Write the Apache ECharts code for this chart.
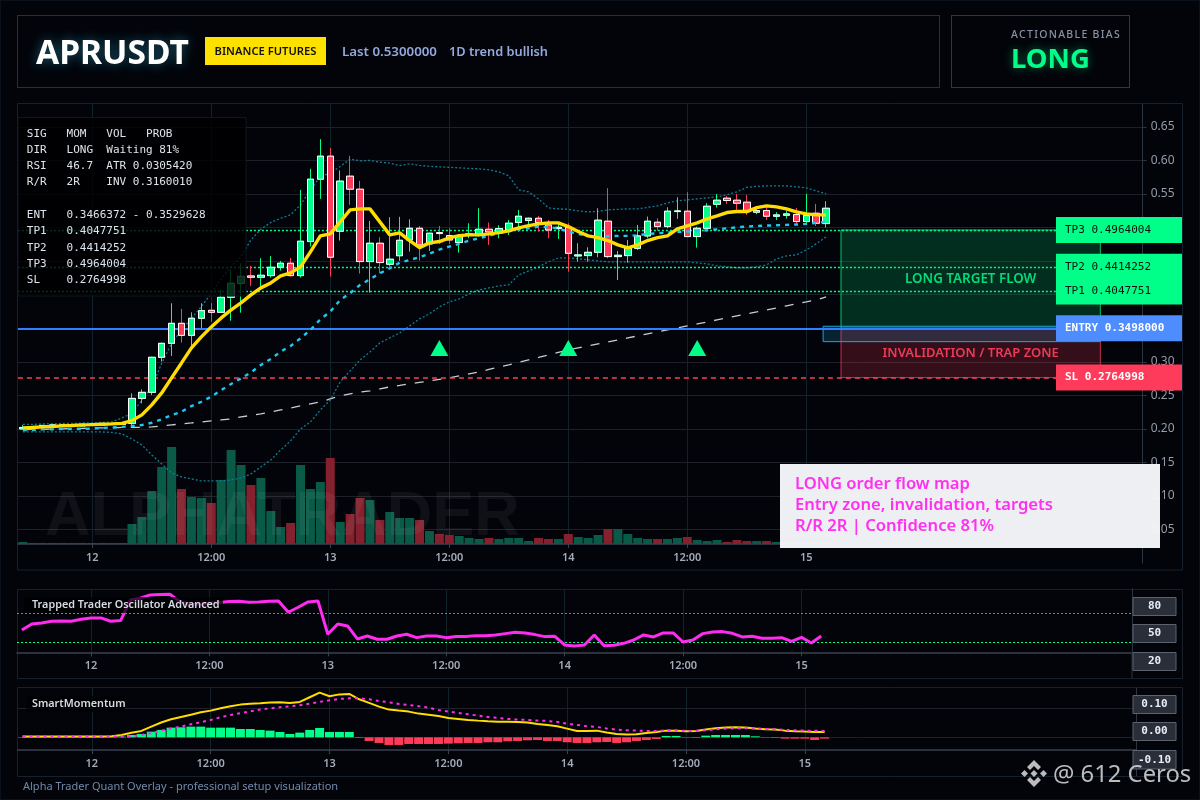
<!DOCTYPE html>
<html><head><meta charset="utf-8">
<script src="https://cdn.jsdelivr.net/npm/echarts@6/dist/echarts.min.js"></script>
<style>
html,body{margin:0;padding:0;background:#02040a;width:1200px;height:800px;overflow:hidden}
#frame{position:absolute;left:0;top:0;width:1198px;height:798px;border:1px solid #0b111b}
#chart{position:absolute;left:0;top:0;width:1200px;height:800px}
.p{position:absolute;font-family:"Noto Sans",sans-serif;white-space:nowrap}
</style></head><body>
<div id="frame"></div>
<div id="chart"></div>
<div class="p" style="left:17px;top:15px;width:921px;height:71px;border:1px solid #0f3a48"></div>
<div class="p" style="left:951px;top:15px;width:177px;height:71px;border:1px solid #5a1a6a"></div>
<div class="p" style="left:36px;top:27px;font-size:33.6px;line-height:48px;font-weight:700;color:#fff;text-shadow:0 0 12px rgba(60,200,240,.45)">APRUSDT</div>
<div class="p" style="left:205px;top:37px;width:121px;height:28px;line-height:28px;background:#ffe100;color:#111;text-align:center;font-size:11.2px;font-weight:600">BINANCE FUTURES</div>
<div class="p" style="left:342px;top:42px;line-height:18px;font-size:13.3px;font-weight:600;color:#93a9dc">Last 0.5300000</div>
<div class="p" style="left:449px;top:42px;line-height:18px;font-size:12.8px;font-weight:600;color:#93a9dc">1D trend bullish</div>
<div class="p" style="left:1011px;top:26px;line-height:16px;font-size:10.5px;font-weight:500;letter-spacing:1.3px;color:#8a92a3">ACTIONABLE BIAS</div>
<div class="p" style="left:1011px;top:38px;line-height:40px;font-size:27.5px;font-weight:700;color:#00ff88;text-shadow:0 0 10px rgba(0,255,136,.45)">LONG</div>
<script>
// ---------- price data (hourly candles) ----------
const opens=[.2000,.2022,.2030,.2037,.2045,.2060,.2045,.2052,.2060,.2082,.2067,.2082,.2455,.2545,.3067,.3275,.3573,.3394,.3648,.3767,.3737,.3961,.4165,.4279,.4259,.4284,.4408,.4468,.4284,.4791,.5720,.6063,.4945,.5765,.5571,.4493,.4766,.4453,.4580,.4815,.4989,.4756,.4925,.4880,.4776,.4885,.4905,.4974,.4915,.4964,.5074,.5104,.5138,.5039,.4984,.5004,.4577,.4582,.4631,.5094,.4567,.4582,.4691,.4875,.5079,.5014,.5238,.5243,.4865,.4989,.5347,.5437,.5407,.5377,.5228,.5253,.5168,.5183,.5193,.5089,.5213,.5059];
const closes=[.2022,.2037,.2052,.2060,.2060,.2045,.2067,.2075,.2082,.2067,.2082,.2455,.2545,.3067,.3275,.3573,.3394,.3648,.3762,.3737,.3961,.4170,.4274,.4259,.4289,.4408,.4468,.4284,.4796,.5720,.6063,.4558,.5691,.5571,.4493,.4766,.4478,.4528,.4810,.4989,.4741,.4915,.4910,.4815,.4880,.4905,.4974,.4935,.4984,.5064,.5168,.5138,.5074,.4964,.5004,.4616,.4592,.4631,.5109,.4567,.4587,.4691,.4875,.5094,.5014,.5243,.5248,.4865,.4989,.5317,.5407,.5402,.5362,.5238,.5253,.5168,.5188,.5203,.5089,.5178,.5064,.5287];
const lows=[.1993,.2015,.2022,.2030,.2037,.2030,.2037,.2045,.2052,.2060,.2060,.2058,.2381,.2505,.3002,.3086,.3285,.3206,.3499,.3598,.3737,.3613,.3732,.4130,.4095,.4254,.4359,.4269,.4254,.4717,.5427,.4269,.4806,.5338,.4314,.4031,.4319,.4418,.4503,.4641,.4507,.4651,.4756,.4756,.4626,.4840,.4865,.4741,.4840,.4890,.4940,.5039,.4940,.4840,.4830,.4343,.4492,.4492,.4557,.4542,.4219,.4477,.4666,.4840,.4954,.4989,.5128,.4865,.4701,.4974,.5297,.5352,.5263,.5188,.5198,.5113,.5113,.5133,.5054,.5064,.5024,.5000];
const highs=[.2060,.2045,.2060,.2075,.2075,.2067,.2082,.2089,.2089,.2089,.2089,.2530,.2589,.3076,.3285,.3872,.3787,.3737,.3872,.3872,.4070,.4369,.4468,.4428,.4543,.4577,.4503,.4548,.5561,.5875,.6317,.6183,.5850,.6068,.5696,.5099,.4856,.5154,.5159,.5123,.5024,.4925,.5024,.4989,.4895,.5064,.5287,.5074,.5034,.5113,.5263,.5148,.5173,.5113,.5074,.5064,.4766,.4706,.5287,.5586,.4651,.4815,.5039,.5163,.5138,.5302,.5451,.5526,.5014,.5362,.5501,.5471,.5501,.5486,.5302,.5302,.5228,.5253,.5292,.5501,.5352,.5392];
const ema=[.2015,.2022,.2030,.2037,.2045,.2052,.2060,.2064,.2070,.2075,.2082,.2124,.2209,.2358,.2536,.2760,.2983,.3207,.3371,.3520,.3654,.3773,.3877,.3997,.4101,.4175,.4280,.4324,.4414,.4637,.4876,.4906,.5084,.5263,.5278,.5278,.5084,.4891,.4920,.4806,.4701,.4771,.4791,.4846,.4880,.4891,.4891,.4906,.4925,.4950,.4995,.5029,.5055,.5069,.5069,.5014,.4940,.4876,.4850,.4806,.4742,.4697,.4742,.4806,.4850,.4876,.4980,.5025,.5069,.5129,.5174,.5223,.5238,.5238,.5297,.5323,.5308,.5278,.5233,.5204,.5189,.5189];
const basis=[.1985,.1985,.1993,.1993,.2000,.2000,.2000,.2007,.2015,.2022,.2030,.2043,.2058,.2092,.2142,.2207,.2256,.2341,.2405,.2480,.2579,.2669,.2753,.2843,.2952,.3042,.3151,.3236,.3350,.3474,.3633,.3747,.3921,.4021,.4145,.4230,.4319,.4393,.4477,.4517,.4557,.4612,.4671,.4716,.4756,.4805,.4840,.4880,.4915,.4945,.4974,.4989,.5014,.5004,.4989,.4940,.4905,.4875,.4865,.4870,.4875,.4875,.4885,.4905,.4915,.4925,.4935,.4940,.4945,.4960,.4974,.4989,.5004,.5014,.5024,.5029,.5034,.5039,.5044,.5054,.5069,.5084];
const bandUpper=[.2067,.2067,.2075,.2075,.2082,.2082,.2089,.2089,.2097,.2104,.2164,.2231,.2430,.2629,.2977,.3275,.3474,.3648,.3822,.4021,.4244,.4418,.4567,.4816,.4975,.5074,.5139,.5189,.5338,.5561,.5760,.5810,.5910,.6019,.5994,.5999,.5974,.5959,.5923,.5949,.5926,.5911,.5904,.5896,.5889,.5881,.5874,.5859,.5829,.5770,.5561,.5531,.5427,.5293,.5278,.5271,.5248,.5233,.5240,.5263,.5271,.5278,.5278,.5300,.5323,.5367,.5397,.5412,.5427,.5442,.5457,.5487,.5531,.5598,.5613,.5621,.5621,.5621,.5606,.5591,.5546,.5502];
const bandLower=[.1955,.1955,.1955,.1955,.1955,.1955,.1955,.1955,.1955,.1948,.1925,.1851,.1762,.1613,.1479,.1344,.1285,.1255,.1225,.1225,.1225,.1240,.1270,.1330,.1434,.1538,.1687,.1821,.2000,.2104,.2283,.2432,.2700,.2864,.3028,.3147,.3281,.3356,.3430,.3535,.3639,.3714,.3818,.3892,.3937,.4012,.4071,.4101,.4131,.4146,.4295,.4354,.4414,.4488,.4548,.4548,.4533,.4518,.4503,.4488,.4488,.4488,.4488,.4488,.4488,.4488,.4488,.4488,.4473,.4459,.4429,.4414,.4399,.4399,.4414,.4444,.4533,.4578,.4593,.4667,.4757,.4861];
const longMa=[.1985,.1993,.1993,.2000,.2000,.2007,.2007,.2015,.2015,.2015,.2022,.2022,.2022,.2030,.2045,.2060,.2075,.2089,.2104,.2119,.2134,.2149,.2179,.2201,.2224,.2253,.2283,.2313,.2343,.2373,.2402,.2447,.2492,.2522,.2551,.2566,.2596,.2626,.2648,.2671,.2693,.2715,.2738,.2760,.2790,.2820,.2849,.2887,.2924,.2954,.2991,.3028,.3065,.3103,.3140,.3177,.3207,.3237,.3267,.3296,.3326,.3356,.3386,.3416,.3445,.3475,.3505,.3535,.3565,.3594,.3624,.3654,.3684,.3714,.3743,.3773,.3803,.3833,.3863,.3892,.3922,.3967];
const volume=[2,1,1,1,1,1,1,1,1,1,1,20,27,53,77,97,55,47,46,41,64,94,79,59,66,33,17,21,79,55,62,86,22,30,46,44,24,32,26,26,24,13,10,9,8,6,5,6,5,6,6,3,6,5,5,10,7,6,9,15,15,10,6,5,5,5,6,7,4,3,4,2,4,3,3,3,2,2,2,2,2,2];
const oscillator=[51.5,62,63.8,66.7,67.3,66.7,70.2,72.5,72.5,66.7,67.8,104,106.9,112.7,113.3,113.9,101,96.4,96.4,97.6,99.3,101,101.6,99.9,100.5,101.6,102.2,82.4,91.2,100.5,102.2,44,62,58.5,35.8,41,35.2,35.2,41,44,38.1,41,41,38.1,39.9,39.9,41.6,41.6,42.8,45.1,47.4,46.3,43.4,39.9,40.4,25.3,23.5,25.3,42.8,24.1,24.7,28.2,34,42.8,39.3,46.3,46.3,30.5,34,45.1,48,48.6,45.7,39.3,40.4,37,37,38.1,31.7,38.7,28.8,41];
const momentum=[.0024,.0024,.0024,.0024,.0024,.0024,.0024,.0024,.0024,.0035,.008,.016,.022,.037,.051,.062,.07,.078,.0863,.092,.1,.107,.1127,.116,.1173,.1196,.1208,.1185,.122,.138,.154,.1414,.148,.1495,.131,.1185,.1058,.0955,.092,.0886,.0817,.078,.0736,.0668,.0633,.0598,.0575,.0553,.054,.054,.053,.0507,.046,.0426,.038,.03,.022,.022,.023,.0162,.0116,.0093,.0105,.015,.0185,.023,.023,.0208,.022,.0265,.031,.0334,.0346,.0334,.03,.0277,.0265,.023,.0208,.0196,.0185,.0185];
const momentumSignal=[.0024,.0024,.0024,.0024,.0024,.0024,.0024,.0024,.0024,.0024,.0024,.0024,.0081,.0139,.023,.03,.0369,.0449,.0518,.0599,.0691,.0771,.0828,.0897,.0955,.1,.1035,.107,.1104,.1161,.1219,.1276,.1322,.1345,.1345,.131,.1254,.1208,.115,.1116,.107,.1024,.0943,.0886,.084,.0794,.0748,.0702,.0668,.0633,.061,.0599,.0576,.0564,.053,.0472,.0426,.038,.0357,.03,.0265,.0242,.023,.022,.022,.0242,.0242,.022,.022,.0242,.0277,.03,.0311,.0311,.03,.0288,.0277,.0254,.0242,.023,.023,.022];
const momentumHist=[.001,.001,.001,.001,.001,.001,.001,.001,.001,.002,.0023,.008,.0115,.0195,.0253,.0333,.0345,.0368,.0368,.0333,.0333,.0333,.0287,.0287,.0253,.023,.0184,.0115,.0161,.0253,.0322,.0184,.0184,.0184,-.0023,-.0126,-.0195,-.0264,-.0264,-.023,-.023,-.023,-.023,-.0218,-.0207,-.0195,-.0195,-.0172,-.0172,-.0138,-.0126,-.0103,-.0092,-.0126,-.0126,-.0172,-.0195,-.0195,-.0172,-.0161,-.0195,-.0172,-.0126,-.0092,-.0057,.0046,.0046,.0011,-.0023,.0057,.008,.008,.008,.008,.0034,.0011,-.0023,-.0046,-.0046,-.0046,-.0092,-.0046];
// ---------- axes ----------
const tickIndex=[7,19,31,43,55,67,79];
const tickLabels=['12','12:00','13','12:00','14','12:00','15'];
const bandCount=113;
const categories=[];for(let i=0;i<bandCount;i++){const k=tickIndex.indexOf(i);categories.push(k<0?'':tickLabels[k]);}
// ---------- trade levels ----------
const levelNames=['TP3 0.4964004','TP2 0.4414252','TP1 0.4047751','ENTRY 0.3498000','SL 0.2764998'];
const levelValues=[.4964004,.4414252,.4047751,.3498,.2764998];
const signalIndex=[42,55,68];
const signalValue=[.3207,.3207,.3207];
const zoneLabels=['LONG TARGET FLOW','INVALIDATION / TRAP ZONE',''];
const zoneTop=[.4964004,.3498,.3529628];
const zoneBottom=[.3498,.2764998,.3300];
const zoneStart=[83,83,81];
const zoneEnd=[109,109,109];
const oscLevels=[80,30];
const oscTagLabels=['80','50','20'];
const momTagLabels=['0.10','0.00','-0.10'];
const momGrid=[.1,0];

const GREEN='#00ff88',RED='#ff3b5c',BLUE='#4d8dff',YEL='#ffdd00',MAG='#ff2cf0';
const MONO='"DejaVu Sans Mono",monospace',SANS='"Noto Sans",sans-serif';
const AX='#a4abb7';
const hiddenX=(g,d)=>({type:'category',gridIndex:g,data:d,show:false,boundaryGap:true});
const isTick=i=>tickIndex.includes(i);
const visX=(g,size)=>({type:'category',gridIndex:g,data:categories,boundaryGap:true,
  axisLine:{show:true,onZero:false,lineStyle:{color:'#3a424f',width:1.5}},
  axisTick:{show:true,alignWithLabel:true,interval:isTick,length:4,lineStyle:{color:'#3a424f'}},
  axisLabel:{show:true,interval:isTick,color:AX,fontFamily:SANS,fontSize:11,fontWeight:600,margin:8,hideOverlap:false},
  splitLine:{show:true,alignWithLabel:true,interval:isTick,lineStyle:{color:'#10232b',width:1}}});
const hiddenY=(g,min,max)=>({type:'value',gridIndex:g,min,max,show:false,splitLine:{show:false}});

const bodies=opens.map((o,i)=>[o,closes[i],Math.min(o,closes[i]),Math.max(o,closes[i])]);
const candles=opens.map((o,i)=>[o,closes[i],lows[i],highs[i]]);
const lineS=(name,data,color,width,type,z,xi,yi)=>({name,type:'line',data,xAxisIndex:xi,yAxisIndex:yi,symbol:'none',z,silent:true,
  lineStyle:{color,width,type},itemStyle:{color}});
const levelLine=(v,color,width,type)=>({yAxis:v,lineStyle:{color,width,type}});

const labelBox=(x,y,w,h)=>({type:'rect',shape:{x,y,width:w,height:h},style:{fill:'rgba(0,0,0,.72)'},z:50,silent:true});
const txt=(text,x,y,font,fill,z,extra)=>({type:'text',x,y,z:z||60,silent:true,style:Object.assign({text,font,fill,align:'left',verticalAlign:'middle'},extra||{})});
const frame=(x,y,w,h)=>({type:'rect',shape:{x,y,width:w,height:h},style:{fill:'none',stroke:'#16212d',lineWidth:1},z:0,silent:true});
const tag=(label,y0,y1)=>[
  {type:'rect',shape:{x:1133,y:y0,width:43,height:y1-y0},style:{fill:'#292e39',stroke:'#5a6270',lineWidth:1},z:70,silent:true},
  txt(label,1154.5,(y0+y1)/2,'bold 11px '+MONO,'#e8eef8',71,{align:'center'})];
const poly=(pts)=>({type:'polygon',shape:{points:pts},style:{fill:'rgba(214,214,214,.88)'},z:90,silent:true});

const option={
  animation:false,
  backgroundColor:'transparent',
  grid:[
    {left:17.9,width:1120.6,top:104,height:459.2},
    {left:17.9,width:1120.6,top:104,height:440},
    {left:18,width:1124.7,top:104,height:459.2},
    {left:17,width:1115,top:589,height:63.3},
    {left:17.6,width:1118.9,top:688,height:62}
  ],
  xAxis:[hiddenX(0,categories),visX(1),hiddenX(2,['']),visX(3),visX(4)],
  yAxis:[
    hiddenY(0,0,.684),
    hiddenY(1,0,440),
    {type:'value',gridIndex:2,position:'right',min:0,max:.684,interval:.05,
      axisLine:{show:true,lineStyle:{color:'#2c3542'}},axisTick:{show:true,length:4,lineStyle:{color:'#2c3542'}},
      axisLabel:{show:true,color:'#959ca8',fontFamily:SANS,fontSize:12,margin:8,showMinLabel:false,showMaxLabel:false,formatter:v=>v.toFixed(2)},
      splitLine:{show:true,showMinLine:false,showMaxLine:false,lineStyle:{color:'#1c2129',width:1}}},
    {type:'value',gridIndex:3,position:'right',min:12.5,max:123,axisLine:{show:true,lineStyle:{color:'#2c3542'}},axisTick:{show:false},axisLabel:{show:false},splitLine:{show:false}},
    {type:'value',gridIndex:4,position:'right',min:-.0438,max:.17,axisLine:{show:true,lineStyle:{color:'#2c3542'}},axisTick:{show:false},axisLabel:{show:false},splitLine:{show:false}}
  ],
  series:[
    {name:'Volume',type:'bar',xAxisIndex:1,yAxisIndex:1,barWidth:9,z:1,silent:true,
      data:volume.map((v,i)=>({value:v,itemStyle:{color:closes[i]>=opens[i]?'#0a5a48':'#85202e'}}))},
    {name:'Zones',type:'custom',xAxisIndex:0,yAxisIndex:0,z:2,silent:true,
      data:zoneTop.map((t,i)=>[zoneStart[i],t,zoneEnd[i],zoneBottom[i]]),
      encode:{x:[0,2],y:[1,3]},
      renderItem:(p,api)=>{
        const i=p.dataIndex,band=api.size([1,0])[0];
        const a=api.coord([api.value(0),api.value(1)]),b=api.coord([api.value(2),api.value(3)]);
        const x0=a[0]-(i===2?3:band/2),x1=b[0]-band/2+1.5;
        const fill=['rgba(0,255,136,.17)','rgba(255,59,92,.2)','rgba(40,190,255,.16)'][i];
        const stroke=['rgba(0,255,136,.75)','rgba(255,59,92,.75)','#1fa6d6'][i];
        const kids=[{type:'rect',shape:{x:x0,y:a[1],width:x1-x0,height:b[1]-a[1]},style:{fill,stroke,lineWidth:1}}];
        if(zoneLabels[i])kids.push({type:'text',style:{x:(x0+x1)/2,y:i===0?279:353,text:zoneLabels[i],align:'center',verticalAlign:'middle',
          font:(i===0?'600 13.4px ':'600 13px ')+SANS,fill:i===0?'#00dd78':'#ee3a58'}});
        return {type:'group',children:kids};
      }},
    {name:'Levels',type:'line',xAxisIndex:0,yAxisIndex:0,data:[],z:3,silent:true,
      markLine:{silent:true,precision:7,symbol:'none',label:{show:false},animation:false,data:[
        levelLine(levelValues[0],GREEN,1.4,[2,2]),levelLine(levelValues[1],GREEN,1.4,[2,2]),levelLine(levelValues[2],GREEN,1.4,[2,2]),
        levelLine(levelValues[3],'#2f80ff',2,'solid'),levelLine(levelValues[4],RED,1.7,[5,4])]}},
    lineS('Long MA',longMa,'#c9cdd2',1.3,[9,9],4,0,0),
    lineS('Upper band',bandUpper,'#0f7d93',1.3,[2,2],4,0,0),
    lineS('Lower band',bandLower,'#0f7d93',1.3,[2,2],4,0,0),
    {name:'Wicks',type:'candlestick',xAxisIndex:0,yAxisIndex:0,barWidth:7,z:5,silent:true,data:candles,
      itemStyle:{color:GREEN,color0:RED,borderColor:GREEN,borderColor0:RED,borderWidth:1}},
    {name:'Bodies',type:'candlestick',xAxisIndex:0,yAxisIndex:0,barWidth:7,z:6,silent:true,data:bodies,
      itemStyle:{color:GREEN,color0:RED,borderColor:'#fff',borderColor0:'#fff',borderWidth:1}},
    lineS('Basis',basis,'#1ec8f0',2.4,[4,5],7,0,0),
    lineS('EMA',ema,YEL,3.4,'solid',8,0,0),
    {name:'Signals',type:'scatter',xAxisIndex:0,yAxisIndex:0,symbol:'triangle',symbolSize:[18,16],z:8,silent:true,
      itemStyle:{color:GREEN,opacity:1},data:signalIndex.map((x,i)=>[x,signalValue[i]])},
    {name:'Tags',type:'custom',xAxisIndex:0,yAxisIndex:0,z:20,silent:true,
      data:levelValues.map(v=>[0,v]),encode:{x:0,y:1},
      renderItem:(p,api)=>{
        const i=p.dataIndex,y=api.coord([0,api.value(1)])[1];
        const bg=[GREEN,GREEN,GREEN,BLUE,RED][i],fg=['#06120c','#06120c','#06120c','#fff','#fff'][i];
        return {type:'group',children:[
          {type:'rect',shape:{x:1056,y:y-13,width:126,height:26},style:{fill:bg}},
          {type:'text',style:{x:1065,y:y,text:levelNames[i],align:'left',verticalAlign:'middle',font:(i>2?'bold ':'')+'11px '+MONO,fill:fg}}]};
      }},
    // oscillator panel
    Object.assign(lineS('Trapped Trader Oscillator Advanced',oscillator,MAG,3,'solid',5,3,3),{
      markLine:{silent:true,precision:7,symbol:'none',label:{show:false},animation:false,data:[
        levelLine(oscLevels[0],MAG,1,[2,2]),levelLine(oscLevels[1],GREEN,1,[2,2])]}}),
    // momentum panel
    {name:'Momentum histogram',type:'bar',xAxisIndex:4,yAxisIndex:4,barWidth:9,z:3,silent:true,
      data:momentumHist.map(v=>({value:v,itemStyle:{color:v>=0?GREEN:RED}})),
      markLine:{silent:true,precision:7,symbol:'none',label:{show:false},animation:false,z:1,data:momGrid.map(v=>levelLine(v,'#1c2129',1,'solid'))}},
    lineS('SmartMomentum',momentum,YEL,2,'solid',5,4,4),
    lineS('Signal',momentumSignal,MAG,2,[3,4],6,4,4)
  ],
  graphic:{elements:[
    frame(17.5,103.5,1165,466.5),frame(17.5,589.5,1165,89),frame(17.5,687.5,1165,89),
    {type:'line',shape:{x1:1132,y1:652,x2:1132,y2:678},style:{stroke:'#2c3542'},z:1,silent:true},
    {type:'line',shape:{x1:1136.5,y1:750,x2:1136.5,y2:776},style:{stroke:'#2c3542'},z:1,silent:true},
    txt('ALPHATRADER',45,518,'bold 63px "Liberation Sans",sans-serif','rgba(255,255,255,.055)',30),
    {type:'rect',shape:{x:18,y:117.5,width:228,height:178.5},style:{fill:'rgba(0,0,0,.8)',stroke:'#0f1620',lineWidth:1},z:40,silent:true},
    txt('SIG   MOM   VOL   PROB\nDIR   LONG  Waiting 81%\nRSI   46.7  ATR 0.0305420\nR/R   2R    INV 0.3160010\n\nENT   0.3466372 - 0.3529628\nTP1   0.4047751\nTP2   0.4414252\nTP3   0.4964004\nSL    0.2764998',
      26.8,207,'11px '+MONO,'#dde4ec',41,{lineHeight:16.3}),
    {type:'rect',shape:{x:780,y:464,width:380,height:84},style:{fill:'rgba(246,247,250,.97)'},z:80,silent:true},
    txt('LONG order flow map\nEntry zone, invalidation, targets\nR/R 2R | Confidence 81%',795,505.5,'600 16.6px '+SANS,'#ff30f0',81,{lineHeight:21}),
    labelBox(24,597,199,16),
    txt('Trapped Trader Oscillator Advanced',32,605,'600 10.8px '+SANS,'#d6dbe3',60),
    labelBox(26,696,99,16),
    txt('SmartMomentum',32,704,'600 10.8px '+SANS,'#d6dbe3',60),
    ...tag(oscTagLabels[0],597.5,615.5),...tag(oscTagLabels[1],624.5,642.5),...tag(oscTagLabels[2],652.5,670.5),
    ...tag(momTagLabels[0],695.5,713.5),...tag(momTagLabels[1],722.5,740.5),...tag(momTagLabels[2],750.5,769),
    txt('Alpha Trader Quant Overlay - professional setup visualization',23,787,'11px '+SANS,'#7289a8',60),
    poly([[1034,760],[1041,767],[1038,770],[1034,766],[1030,770],[1027,767]]),
    poly([[1034,787],[1041,780],[1038,777],[1034,781],[1030,777],[1027,780]]),
    poly([[1021,773.5],[1024.5,770],[1028,773.5],[1024.5,777]]),
    poly([[1040,773.5],[1043.5,770],[1047,773.5],[1043.5,777]]),
    poly([[1034,770],[1037.5,773.5],[1034,777],[1030.5,773.5]]),
    txt('@ 612 Ceros',1053,775,'23.8px '+SANS,'rgba(214,214,214,.88)',90)
  ]}
};
echarts.init(document.getElementById('chart')).setOption(option);
</script></body></html>
